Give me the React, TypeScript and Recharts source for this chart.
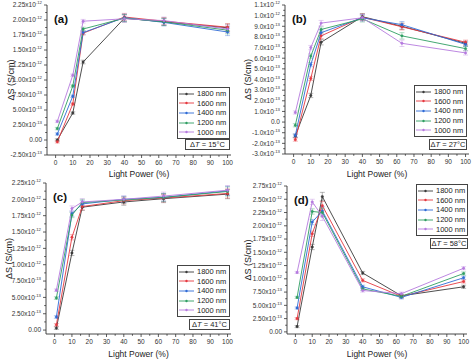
import React from "react";
import { LineChart, Line, XAxis, YAxis, ErrorBar, Label } from "recharts";

/* ── shared data ─────────────────────────────────────────────── */
const power = [1, 10, 16, 40, 63, 100];
const wavelengths = ["1800 nm", "1600 nm", "1400 nm", "1200 nm", "1000 nm"];
const colors = ["#3a3a3a", "#e5383f", "#2f6bd6", "#2f9e62", "#b57ade"];
const xTicks = [0, 10, 20, 30, 40, 50, 60, 70, 80, 90, 100];

// (a) ΔT = 15°C, in 1e-12 S/cm
const a1800 = [0.0, 0.45, 1.3, 2.03, 1.97, 1.87];
const a1600 = [-0.03, 0.6, 1.78, 2.05, 1.98, 1.88];
const a1400 = [0.1, 0.73, 1.79, 2.04, 1.96, 1.8];
const a1200 = [0.19, 0.9, 1.85, 2.03, 1.97, 1.83];
const a1000 = [0.31, 1.08, 1.98, 2.02, 1.99, 1.85];
const aErr = [0.02, 0.02, 0.03, 0.06, 0.06, 0.06];
const aTicks = [-0.25, 0, 0.25, 0.5, 0.75, 1, 1.25, 1.5, 1.75, 2, 2.25];
const aLabels = [
  "-2.50x10|-13", "0.00", "2.50x10|-13", "5.00x10|-13", "7.50x10|-13", "1.00x10|-12",
  "1.25x10|-12", "1.50x10|-12", "1.75x10|-12", "2.00x10|-12", "2.25x10|-12",
];

// (b) ΔT = 27°C, in 1e-13 S/cm
const b1800 = [-1.3, 2.5, 7.5, 9.9, 9.0, 7.4];
const b1600 = [-1.65, 4.1, 8.1, 9.85, 8.95, 7.5];
const b1400 = [-1.25, 5.4, 8.4, 9.8, 9.15, 7.3];
const b1200 = [-0.3, 6.2, 8.7, 9.7, 8.1, 6.9];
const b1000 = [0.9, 7.0, 9.3, 9.8, 7.4, 6.5];
const bErr = [0.15, 0.2, 0.25, 0.3, 0.3, 0.2];
const bTicks = [-3, -2, -1, 0, 1, 2, 3, 4, 5, 6, 7, 8, 9, 10, 11];
const bLabels = [
  "-3.0x10|-13", "-2.0x10|-13", "-1.0x10|-13", "0.0", "1.0x10|-13", "2.0x10|-13",
  "3.0x10|-13", "4.0x10|-13", "5.0x10|-13", "6.0x10|-13", "7.0x10|-13", "8.0x10|-13",
  "9.0x10|-13", "1.0x10|-12", "1.1x10|-12",
];

// (c) ΔT = 41°C, in 1e-12 S/cm
const c1800 = [0.03, 1.18, 1.88, 1.96, 2.01, 2.08];
const c1600 = [0.08, 1.42, 1.89, 1.98, 2.02, 2.09];
const c1400 = [0.2, 1.78, 1.93, 2.0, 2.03, 2.13];
const c1200 = [0.49, 1.76, 1.95, 1.99, 2.03, 2.12];
const c1000 = [0.61, 1.86, 1.96, 2.0, 2.05, 2.14];
const cErr = [0.02, 0.04, 0.05, 0.05, 0.06, 0.07];
const cTicks = [0, 0.25, 0.5, 0.75, 1, 1.25, 1.5, 1.75, 2, 2.25];
const cLabels = [
  "0.00", "2.50x10|-13", "5.00x10|-13", "7.50x10|-13", "1.00x10|-12",
  "1.25x10|-12", "1.50x10|-12", "1.75x10|-12", "2.00x10|-12", "2.25x10|-12",
];

// (d) ΔT = 58°C, in 1e-12 S/cm
const d1800 = [0.1, 1.6, 2.55, 1.11, 0.68, 0.85];
const d1600 = [0.25, 1.85, 2.38, 0.97, 0.67, 0.95];
const d1400 = [0.45, 2.07, 2.28, 0.85, 0.65, 1.02];
const d1200 = [0.65, 2.27, 2.25, 0.81, 0.67, 1.1];
const d1000 = [1.12, 2.45, 2.18, 0.78, 0.72, 1.2];
const dErr = [0.02, 0.05, 0.08, 0.03, 0.03, 0.03];
const dTicks = [0, 0.25, 0.5, 0.75, 1, 1.25, 1.5, 1.75, 2, 2.25, 2.5, 2.75];
const dLabels = [
  "0.00", "2.50x10|-13", "5.00x10|-13", "7.50x10|-13", "1.00x10|-12", "1.25x10|-12",
  "1.50x10|-12", "1.75x10|-12", "2.00x10|-12", "2.25x10|-12", "2.50x10|-12", "2.75x10|-12",
];

const FONT = "'Liberation Sans', Arial, sans-serif";
const INK = "#333";

function buildRows(series: number[][], err: number[]) {
  return power.map((p, i) => {
    const row: Record<string, number> = { p, err: err[i] };
    series.forEach((s, k) => (row["s" + k] = s[i]));
    return row;
  });
}

function withMinors(majors: number[]) {
  const out: number[] = [];
  majors.forEach((m, i) => {
    out.push(m);
    if (i < majors.length - 1) out.push((m + majors[i + 1]) / 2);
  });
  return out;
}

/* ── ticks ───────────────────────────────────────────────────── */
function YTick(props: any) {
  const { x, y, payload, majors, labels } = props;
  const i = majors.findIndex((m: number) => Math.abs(m - payload.value) < 1e-9);
  const len = i >= 0 ? 3 : 1.8;
  const [mant, exp] = i >= 0 ? labels[i].split("|") : ["", ""];
  return (
    <g>
      <line x1={x} x2={x - len} y1={y} y2={y} stroke={INK} strokeWidth={0.8} />
      {i >= 0 && (
        <text x={x - 5} y={y} dy={2.3} textAnchor="end" fontSize={6.5} fill={INK} fontFamily={FONT}>
          {mant}
          {exp && (
            <tspan dy={-3} fontSize={4.3}>
              {exp}
            </tspan>
          )}
        </text>
      )}
    </g>
  );
}

function XTick(props: any) {
  const { x, y, payload } = props;
  const major = payload.value % 10 === 0;
  return (
    <g>
      <line x1={x} x2={x} y1={y} y2={y + (major ? 3 : 1.8)} stroke={INK} strokeWidth={0.8} />
      {major && (
        <text x={x} y={y + 10} textAnchor="middle" fontSize={6.5} fill={INK} fontFamily={FONT}>
          {payload.value}
        </text>
      )}
    </g>
  );
}

/* ── panel ───────────────────────────────────────────────────── */
type PanelProps = {
  left: number;
  top: number;
  height: number;
  yWidth: number;
  mTop: number;
  mRight: number;
  xHeight: number;
  yDomain: [number, number];
  majors: number[];
  labels: string[];
  series: number[][];
  err: number[];
  letter: string;
  deltaT: string;
  legend: { x: number; y: number; w: number };
  dt: { x: number; y: number; w: number };
  yTitleOffset: number;
};

function Panel(p: PanelProps) {
  const rows = buildRows(p.series, p.err);
  const xMinor = withMinors(xTicks);
  const yAll = withMinors(p.majors);
  return (
    <>
      <div style={{ position: "absolute", left: p.left, top: p.top }}>
        <LineChart
          width={237}
          height={p.height}
          data={rows}
          margin={{ top: p.mTop, right: p.mRight, bottom: 0, left: 0 }}
        >
          <XAxis
            dataKey="p"
            type="number"
            domain={[-5, 102]}
            ticks={xMinor}
            interval={0}
            allowDataOverflow
            tickSize={0}
            tickMargin={0}
            tickLine={false}
            tick={<XTick />}
            height={p.xHeight}
            axisLine={{ stroke: INK, strokeWidth: 0.9 }}
          >
            <Label
              value="Light Power (%)"
              position="insideBottom"
              offset={3}
              style={{ fontSize: 8.5, fill: "#222", fontFamily: FONT }}
            />
          </XAxis>
          <XAxis
            xAxisId="top"
            orientation="top"
            type="number"
            domain={[-5, 102]}
            height={0}
            tick={false}
            tickLine={false}
            axisLine={{ stroke: INK, strokeWidth: 0.9 }}
          />
          <YAxis
            type="number"
            domain={p.yDomain}
            ticks={yAll}
            interval={0}
            allowDataOverflow
            width={p.yWidth}
            tickSize={0}
            tickMargin={0}
            tickLine={false}
            tick={<YTick majors={p.majors} labels={p.labels} />}
            axisLine={{ stroke: INK, strokeWidth: 0.9 }}
          >
            <Label
              value="ΔS (S/cm)"
              angle={-90}
              position="insideLeft"
              offset={p.yTitleOffset}
              style={{ fontSize: 9, fill: "#222", fontFamily: FONT, textAnchor: "middle" }}
            />
          </YAxis>
          <YAxis
            yAxisId="right"
            orientation="right"
            type="number"
            domain={p.yDomain}
            width={0}
            tick={false}
            tickLine={false}
            axisLine={{ stroke: INK, strokeWidth: 0.9 }}
          />
          {p.series.map((_, k) => (
            <Line
              key={k}
              dataKey={"s" + k}
              stroke={colors[k]}
              strokeWidth={0.9}
              dot={{ r: 1.2, fill: colors[k], stroke: colors[k], strokeWidth: 0.5 }}
              isAnimationActive={false}
            >
              <ErrorBar dataKey="err" width={2.5} stroke={colors[k]} strokeWidth={0.6} strokeOpacity={0.6} />
            </Line>
          ))}
        </LineChart>
      </div>
      <div
        style={{
          position: "absolute",
          left: p.left + p.yWidth + 7,
          top: p.top + p.mTop + 9,
          fontFamily: FONT,
          fontWeight: "bold",
          fontSize: 11.5,
          lineHeight: 1,
          color: "#111",
        }}
      >
        {p.letter}
      </div>
      <div
        style={{
          position: "absolute",
          left: p.legend.x,
          top: p.legend.y,
          width: p.legend.w,
          border: "1px solid #444",
          background: "#fff",
          fontFamily: FONT,
          fontSize: 7.5,
          color: "#222",
          padding: "1px 0",
          boxSizing: "border-box",
          whiteSpace: "nowrap",
          overflow: "hidden",
        }}
      >
        {wavelengths.map((w, k) => (
          <div key={w} style={{ display: "flex", alignItems: "center", height: 9.6 }}>
            <svg width={15} height={6} style={{ marginLeft: 1, marginRight: 3, flexShrink: 0 }}>
              <line x1={0} x2={15} y1={3} y2={3} stroke={colors[k]} strokeWidth={0.9} />
              <circle cx={7.5} cy={3} r={1.2} fill={colors[k]} />
            </svg>
            <span>{w}</span>
          </div>
        ))}
      </div>
      <div
        style={{
          position: "absolute",
          left: p.dt.x,
          top: p.dt.y,
          width: p.dt.w,
          height: 11,
          border: "1px solid #444",
          background: "#fff",
          fontFamily: FONT,
          fontSize: 7.5,
          color: "#222",
          lineHeight: "9px",
          textAlign: "center",
          boxSizing: "border-box",
          whiteSpace: "nowrap",
        }}
      >
        Δ<i>T</i> = {p.deltaT}
      </div>
    </>
  );
}

export default function App() {
  return (
    <div style={{ position: "absolute", left: 0, top: 0, width: 474, height: 360, background: "#fff" }}>
      <Panel
        left={0}
        top={0}
        height={180}
        yWidth={47}
        mTop={5}
        mRight={6}
        xHeight={25}
        yDomain={[-0.25, 2.25]}
        majors={aTicks}
        labels={aLabels}
        series={[a1800, a1600, a1400, a1200, a1000]}
        err={aErr}
        letter="(a)"
        deltaT="15°C"
        legend={{ x: 177, y: 87, w: 53 }}
        dt={{ x: 185, y: 139, w: 45 }}
        yTitleOffset={11}
      />
      <Panel
        left={237}
        top={0}
        height={180}
        yWidth={48}
        mTop={5}
        mRight={5}
        xHeight={26}
        yDomain={[-3, 11]}
        majors={bTicks}
        labels={bLabels}
        series={[b1800, b1600, b1400, b1200, b1000]}
        err={bErr}
        letter="(b)"
        deltaT="27°C"
        legend={{ x: 414, y: 85, w: 53 }}
        dt={{ x: 429, y: 139, w: 38 }}
        yTitleOffset={11}
      />
      <Panel
        left={0}
        top={178}
        height={182}
        yWidth={46}
        mTop={5}
        mRight={6}
        xHeight={26}
        yDomain={[-0.06, 2.25]}
        majors={cTicks}
        labels={cLabels}
        series={[c1800, c1600, c1400, c1200, c1000]}
        err={cErr}
        letter="(c)"
        deltaT="41°C"
        legend={{ x: 177, y: 265, w: 53 }}
        dt={{ x: 189, y: 319, w: 41 }}
        yTitleOffset={9}
      />
      <Panel
        left={237}
        top={178}
        height={182}
        yWidth={50}
        mTop={8}
        mRight={7}
        xHeight={26}
        yDomain={[-0.04, 2.75]}
        majors={dTicks}
        labels={dLabels}
        series={[d1800, d1600, d1400, d1200, d1000]}
        err={dErr}
        letter="(d)"
        deltaT="58°C"
        legend={{ x: 416, y: 184, w: 52 }}
        dt={{ x: 430, y: 238, w: 38 }}
        yTitleOffset={11}
      />
    </div>
  );
}
